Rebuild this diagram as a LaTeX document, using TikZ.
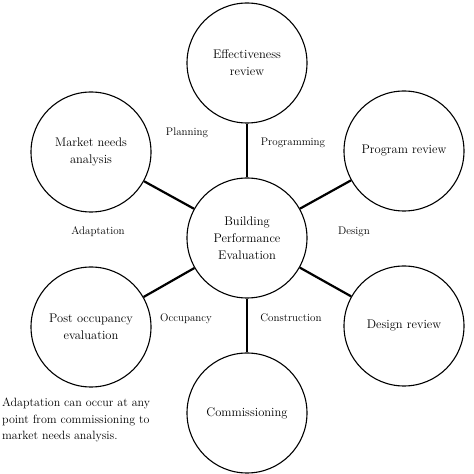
\documentclass[tikz,border=0pt]{standalone}
\begin{document}
\begin{tikzpicture}[x=1pt,y=1pt,
  stage/.style={circle,draw=black,line width=1.1pt,minimum size=120pt,inner sep=0pt,align=center,font=\fontsize{12.5}{17}\selectfont},
  conn/.style={line width=2.2pt},
  lab/.style={font=\fontsize{11}{14}\selectfont,inner sep=0pt}]
\useasboundingbox (0,0) rectangle (474,474);
\node[stage] (E) at (247,411) {Effectiveness\\review};
\node[stage] (M) at (91,322) {Market needs\\analysis};
\node[stage] (P) at (404,323) {Program review};
\node[stage] (B) at (247,236) {Building\\Performance\\Evaluation};
\node[stage] (O) at (91,147) {Post occupancy\\evaluation};
\node[stage] (D) at (404,148) {Design review};
\node[stage] (C) at (247,61) {Commissioning};
\draw[conn] (B) -- (E);
\draw[conn] (B) -- (M);
\draw[conn] (B) -- (P);
\draw[conn] (B) -- (O);
\draw[conn] (B) -- (D);
\draw[conn] (B) -- (C);
\node[lab] (l1) at (187,341) {Planning};
\node[lab] (l2) at (293,331) {Programming};
\node[lab] (l3) at (98,242) {Adaptation};
\node[lab] (l4) at (354,242) {Design};
\node[lab] (l5) at (186,155) {Occupancy};
\node[lab] (l6) at (291,156) {Construction};
\node[anchor=west,align=left,inner sep=0pt,font=\fontsize{12}{16.5}\selectfont] (note) at (2,54) {Adaptation can occur at any\\point from commissioning to\\market needs analysis.};
\end{tikzpicture}
\end{document}
